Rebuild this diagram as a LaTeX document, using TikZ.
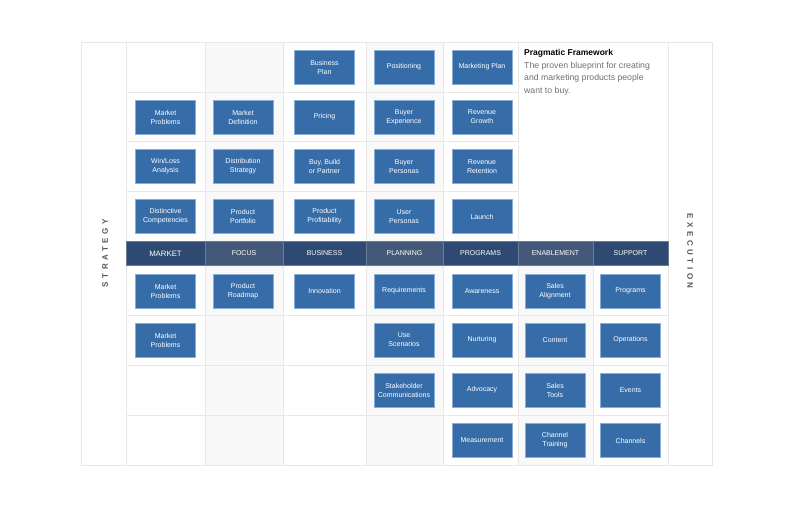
\documentclass[tikz,border=0pt]{standalone}
\usepackage{fontspec}
\setmainfont{Liberation Sans}
\newfontfamily\spacedfont[LetterSpace=45]{Liberation Sans}
\usetikzlibrary{positioning}

\definecolor{boxblue}{HTML}{366DA9}
\definecolor{boxedge}{HTML}{8AADD5}
\definecolor{headdark}{HTML}{2E4A72}
\definecolor{headlight}{HTML}{44597A}
\definecolor{headedge}{HTML}{6C7C96}
\definecolor{gridgray}{HTML}{E8E8E8}
\definecolor{cellgray}{HTML}{F9F9F9}
\definecolor{sidegray}{HTML}{555555}
\definecolor{bodygray}{HTML}{707070}

\begin{document}
\begin{tikzpicture}[x=1pt, y=-1pt,
	item/.style={draw=boxedge, fill=boxblue, text=white, line width=.8pt, minimum width=60pt, minimum height=34pt, inner sep=1pt, align=center, font=\fontsize{7}{9}\selectfont},
	head/.style={draw=headedge, line width=.6pt, outer sep=0pt, minimum height=24pt, inner sep=0pt, text=white, font=\fontsize{7}{8}\selectfont},
	grid/.style={draw=gridgray, line width=.8pt},
	side/.style={text=sidegray, font=\spacedfont\bfseries\fontsize{8}{8}\selectfont}]
	\useasboundingbox (0,0) rectangle (800,528);
	% cells
	\fill[cellgray] (205,42) rectangle (283,465);
	\fill[cellgray] (366,42) rectangle (443,465);
	\fill[cellgray] (518,265) rectangle (593,465);
	\draw[grid] (81,42) rectangle (712,465);
	\draw[grid] (126,42) -- (126,465);
	\draw[grid] (205,42) -- (205,465);
	\draw[grid] (283,42) -- (283,465);
	\draw[grid] (366,42) -- (366,465);
	\draw[grid] (443,42) -- (443,465);
	\draw[grid] (518,42) -- (518,465);
	\draw[grid] (593,265) -- (593,465);
	\draw[grid] (668,42) -- (668,465);
	\draw[grid] (126,92) -- (518,92);
	\draw[grid] (126,141) -- (518,141);
	\draw[grid] (126,191) -- (518,191);
	\draw[grid] (126,315) -- (668,315);
	\draw[grid] (126,365) -- (668,365);
	\draw[grid] (126,415) -- (668,415);
	% header
	\node[head, fill=headdark, minimum width=79pt, font=\fontsize{7.8}{8}\selectfont] (market) at (165.5,253.5) {MARKET};
	\node[head, fill=headlight, minimum width=78pt, right=0pt of market] (focus) {FOCUS};
	\node[head, fill=headdark, minimum width=83pt, right=0pt of focus] (business) {BUSINESS};
	\node[head, fill=headlight, minimum width=77pt, right=0pt of business] (planning) {PLANNING};
	\node[head, fill=headdark, minimum width=75pt, right=0pt of planning] (programs) {PROGRAMS};
	\node[head, fill=headlight, minimum width=75pt, right=0pt of programs] (enablement) {ENABLEMENT};
	\node[head, fill=headdark, minimum width=75pt, right=0pt of enablement] (support) {SUPPORT};
	\node[side, rotate=90] (strategy) at (105,253) {STRATEGY};
	\node[side, rotate=-90] (execution) at (690,251) {EXECUTION};
	% intro text
	\node[anchor=north west, inner sep=0pt, font=\bfseries\fontsize{8.5}{10}\selectfont] (title) at (524,49.5) {Pragmatic Framework};
	\node[below=4pt of title.south west, anchor=north west, inner sep=0pt, align=left, text=bodygray, font=\fontsize{8.7}{12.5}\selectfont] (blurb) {The proven blueprint for creating\\and marketing products people\\want to buy.};
	% strategy boxes
	\node[item] (bplan) at (324.5,67) {Business\\Plan};
	\node[item] (position) at (404,67) {Positioning};
	\node[item] (mplan) at (482,67) {Marketing Plan};
	\node[item] (mprob1) at (165.5,117) {Market\\Problems};
	\node[item] (mdef) at (243,117) {Market\\Definition};
	\node[item] (pricing) at (324.5,117) {Pricing};
	\node[item] (bexp) at (404,117) {Buyer\\Experience};
	\node[item] (rgrowth) at (482,117) {Revenue\\Growth};
	\node[item] (winloss) at (165.5,166.5) {Win/Loss\\Analysis};
	\node[item] (dist) at (243,166.5) {Distribution\\Strategy};
	\node[item] (buybuild) at (324.5,166.5) {Buy, Build\\or Partner};
	\node[item] (bpers) at (404,166.5) {Buyer\\Personas};
	\node[item] (rret) at (482,166.5) {Revenue\\Retention};
	\node[item] (distinct) at (165.5,216.5) {Distinctive\\Competencies};
	\node[item] (portfolio) at (243,216.5) {Product\\Portfolio};
	\node[item] (profit) at (324.5,216.5) {Product\\Profitability};
	\node[item] (upers) at (404,216.5) {User\\Personas};
	\node[item] (launch) at (482,216.5) {Launch};
	% execution boxes
	\node[item] (mprob2) at (165.5,291) {Market\\Problems};
	\node[item] (roadmap) at (243,291) {Product\\Roadmap};
	\node[item] (innov) at (324.5,291) {Innovation};
	\node[item] (req) at (404,291) {Requirements};
	\node[item] (aware) at (482,291) {Awareness};
	\node[item] (salign) at (555,291) {Sales\\Alignment};
	\node[item] (progs) at (630.5,291) {Programs};
	\node[item] (mprob3) at (165.5,340) {Market\\Problems};
	\node[item] (usescen) at (404,340) {Use\\Scenarios};
	\node[item] (nurture) at (482,340) {Nurturing};
	\node[item] (content) at (555,340) {Content};
	\node[item] (ops) at (630.5,340) {Operations};
	\node[item] (stake) at (404,390) {Stakeholder\\Communications};
	\node[item] (advocacy) at (482,390) {Advocacy};
	\node[item] (stools) at (555,390) {Sales\\Tools};
	\node[item] (events) at (630.5,390) {Events};
	\node[item] (measure) at (482,440.5) {Measurement};
	\node[item] (ctrain) at (555,440.5) {Channel\\Training};
	\node[item] (channels) at (630.5,440.5) {Channels};
\end{tikzpicture}
\end{document}
